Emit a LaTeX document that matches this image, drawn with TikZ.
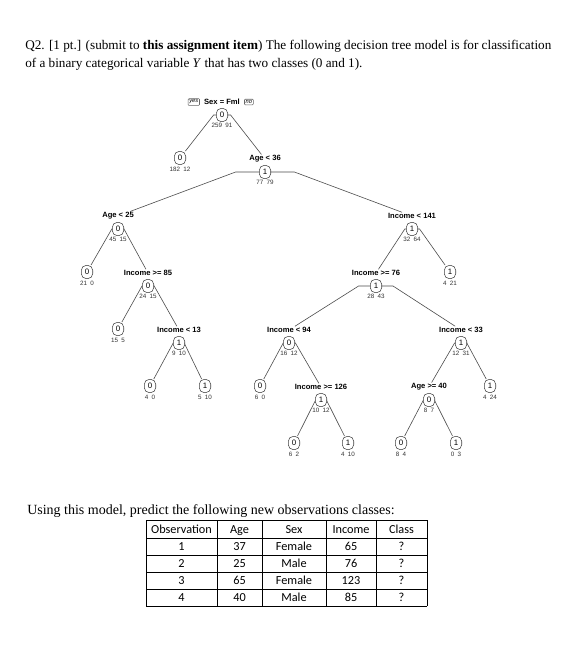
\documentclass[tikz,border=0pt]{standalone}
\usepackage{fontspec}
\setmainfont{Liberation Serif}
\newfontfamily\treefont{Liberation Sans}
\newfontfamily\tabfont{Carlito}
\usetikzlibrary{calc,positioning,backgrounds}

\begin{document}
\begin{tikzpicture}[x=0.75pt, y=-0.75pt,
        splitlab/.style={font=\treefont\bfseries\fontsize{5.7}{6}\selectfont, fill=white, inner sep=0.6pt},
        cls/.style={draw=black!75, fill=white, rounded corners=3.8pt, minimum width=8.6pt, minimum height=10pt, inner sep=0pt, font=\treefont\fontsize{5.9}{6}\selectfont},
        cnt/.style={font=\treefont\fontsize{4.7}{5}\selectfont, text=black!80, inner sep=0pt},
        yn/.style={draw=black!60, rounded corners=0.6pt, inner sep=0.9pt, font=\treefont\itshape\fontsize{4.3}{5}\selectfont},
        branch/.style={draw=black!70, line width=0.45pt},
        body/.style={anchor=base west, inner sep=0pt, font=\fontsize{9.9}{12}\selectfont},
        cell/.style={anchor=base, inner sep=0pt, font=\tabfont\fontsize{9.2}{11}\selectfont}]
    \useasboundingbox (0,0) rectangle (572,647);

    % Question text
    \node[body] (q1) at (25,49) {Q2. [1 pt.] (submit to \textbf{this assignment item}) The following decision tree model is for classification};
    \node[body] (q2) at (25,67) {of a binary categorical variable \textit{Y} that has two classes (0 and 1).};

    % Split nodes: name / x / y / condition / class / counts
    \foreach \nm/\x/\y/\cond/\cl/\n in {
            root/222/102/{Sex = Fml}/0/{259\ \ 91},
            age36/265/159/{Age < 36}/1/{77\ \ 79},
            age25/118/216/{Age < 25}/0/{45\ \ 15},
            inc141/412/216/{Income < 141}/1/{32\ \ 64},
            inc85/148/273/{Income >= 85}/0/{24\ \ 15},
            inc76/376/273/{Income >= 76}/1/{28\ \ 43},
            inc13/179/330/{Income < 13}/1/{9\ \ 10},
            inc94/289/330/{Income < 94}/0/{16\ \ 12},
            inc33/461/330/{Income < 33}/1/{12\ \ 31},
            inc126/321/387/{Income >= 126}/1/{10\ \ 12},
            age40/429/387/{Age >= 40}/0/{8\ \ 7}} {
        \node[splitlab] (\nm) at (\x, \y) {\cond};
        \node[cls] (\nm-c) at (\x, \y+13) {\cl};
        \node[cnt] (\nm-n) at (\x, \y+23.5) {\n};
    }

    % Leaves: name / x / y / class / counts
    \foreach \nm/\x/\y/\cl/\n in {
            lA/180/158/0/{182\ \ 12}, lB/87/272/0/{21\ \ 0}, lC/450/272/1/{4\ \ 21},
            lD/118/329/0/{15\ \ 5}, lE/150/386/0/{4\ \ 0}, lF/205/386/1/{5\ \ 10},
            lG/260/386/0/{6\ \ 0}, lH/490/386/1/{4\ \ 24}, lI/294/443/0/{6\ \ 2},
            lJ/348/443/1/{4\ \ 10}, lK/401/443/0/{8\ \ 4}, lL/456/443/1/{0\ \ 3}} {
        \node[cls] (\nm) at (\x, \y) {\cl};
        \node[cnt] (\nm-n) at (\x, \y+11.5) {\n};
    }

    % yes / no tags of the root
    \node[yn, left=2.5pt of root] (yes) {yes};
    \node[yn, right=2.5pt of root] (no) {no};

    % Branches (short shoulder, then straight to the child)
    \begin{scope}[on background layer]
        \fill[white] (0,0) rectangle (572,647);
        \foreach \p/\c in {root/lA, root/age36, age36/age25, age36/inc141,
                age25/lB, age25/inc85, inc85/lD, inc85/inc13, inc13/lE, inc13/lF,
                inc141/inc76, inc141/lC, inc76/inc94, inc76/inc33,
                inc94/lG, inc94/inc126, inc126/lI, inc126/lJ,
                inc33/age40, inc33/lH, age40/lK, age40/lL}
            \draw[branch] (\p-c.center) -- ($(\p-c)!0.2!(\c |- \p-c)$) -- (\c);
    \end{scope}

    % Prediction question
    \node[body, font=\fontsize{10.5}{12}\selectfont] (ask) at (27,514) {Using this model, predict the following new observations classes:};

    % Table grid
    \foreach \x in {146,217,262,326,376,427}
        \draw[line width=0.6pt] (\x,520) -- (\x,606);
    \foreach \y in {520,538,555,572,589,606}
        \draw[line width=0.6pt] (146,\y) -- (427,\y);

    % Table header and rows
    \foreach \x/\t in {181.5/Observation, 239.5/Age, 294/Sex, 351/Income, 401.5/Class}
        \node[cell] (h-\t) at (\x,533) {\t};
    \foreach \r/\a/\s/\m in {1/37/Female/65, 2/25/Male/76, 3/65/Female/123, 4/40/Male/85} {
        \pgfmathsetmacro\yb{533+17*\r}
        \node[cell] (o\r) at (181.5,\yb) {\r};
        \node[cell] (a\r) at (239.5,\yb) {\a};
        \node[cell] (s\r) at (294,\yb) {\s};
        \node[cell] (m\r) at (351,\yb) {\m};
        \node[cell] (k\r) at (401.5,\yb) {?};
    }
\end{tikzpicture}
\end{document}
